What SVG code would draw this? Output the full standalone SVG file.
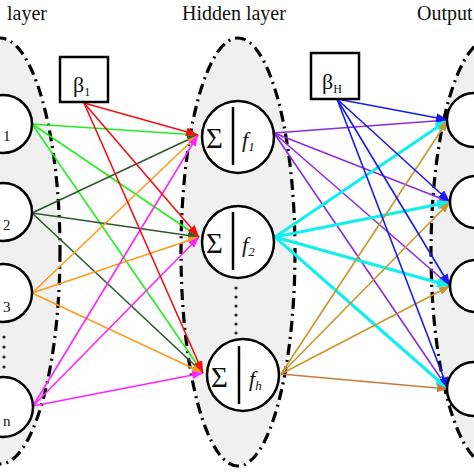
<svg xmlns="http://www.w3.org/2000/svg" width="474" height="474" viewBox="0 0 474 474">
<style>
.layer{fill:#f0f0f0;stroke:#000;stroke-width:3.2;stroke-dasharray:11 5 2 5}
.node{fill:#fff;stroke:#000;stroke-width:2.5}
.box{fill:#fff;stroke:#000;stroke-width:2.5}
.t{font-family:"Liberation Serif","Times New Roman",serif;fill:#111}
.title{font-size:20px}
.sub{font-size:15px}
.it{font-style:italic}
.dot{fill:#222}
.c{fill:none;stroke-width:1.6}
</style>
<defs>
<marker id="aG" markerUnits="userSpaceOnUse" markerWidth="11" markerHeight="8" refX="11" refY="4" orient="auto"><path d="M0,0L11,4L0,8z" fill="#22ee22"/></marker>
<marker id="aD" markerUnits="userSpaceOnUse" markerWidth="11" markerHeight="8" refX="11" refY="4" orient="auto"><path d="M0,0L11,4L0,8z" fill="#2e5a2e"/></marker>
<marker id="aO" markerUnits="userSpaceOnUse" markerWidth="11" markerHeight="8" refX="11" refY="4" orient="auto"><path d="M0,0L11,4L0,8z" fill="#ff9a1a"/></marker>
<marker id="aM" markerUnits="userSpaceOnUse" markerWidth="11" markerHeight="8" refX="11" refY="4" orient="auto"><path d="M0,0L11,4L0,8z" fill="#ff22ff"/></marker>
<marker id="aR" markerUnits="userSpaceOnUse" markerWidth="12" markerHeight="9" refX="12" refY="4.5" orient="auto"><path d="M0,0L12,4.5L0,9z" fill="#ee1111"/></marker>
<marker id="aP" markerUnits="userSpaceOnUse" markerWidth="11" markerHeight="8" refX="11" refY="4" orient="auto"><path d="M0,0L11,4L0,8z" fill="#8a2be2"/></marker>
<marker id="aC" markerUnits="userSpaceOnUse" markerWidth="13" markerHeight="10" refX="13" refY="5" orient="auto"><path d="M0,0L13,5L0,10z" fill="#11eeee"/></marker>
<marker id="aY" markerUnits="userSpaceOnUse" markerWidth="11" markerHeight="8" refX="11" refY="4" orient="auto"><path d="M0,0L11,4L0,8z" fill="#c8962a"/></marker>
<marker id="aW" markerUnits="userSpaceOnUse" markerWidth="11" markerHeight="8" refX="11" refY="4" orient="auto"><path d="M0,0L11,4L0,8z" fill="#c77a3a"/></marker>
<marker id="aB" markerUnits="userSpaceOnUse" markerWidth="12" markerHeight="9" refX="12" refY="4.5" orient="auto"><path d="M0,0L12,4.5L0,9z" fill="#1a1aee"/></marker>
</defs>

<g id="layers">
<ellipse class="layer" cx="0" cy="251" rx="60" ry="213"/>
<ellipse class="layer" cx="238" cy="252" rx="57" ry="214"/>
<ellipse class="layer" cx="491" cy="252" rx="60" ry="214"/>
</g>

<g id="titles">
<text class="t title" x="47" y="20" text-anchor="end">layer</text>
<text class="t title" x="234" y="20" text-anchor="middle">Hidden layer</text>
<text class="t title" x="417" y="20">Output</text>
</g>

<g id="connectors">
<g stroke="#22ee22" class="c" marker-end="url(#aG)">
<line x1="32" y1="124" x2="198" y2="135"/>
<line x1="32" y1="124" x2="199" y2="237"/>
<line x1="32" y1="124" x2="203" y2="373"/>
</g>
<g stroke="#2e5a2e" class="c" marker-end="url(#aD)">
<line x1="32" y1="213" x2="198" y2="135"/>
<line x1="32" y1="213" x2="199" y2="237"/>
<line x1="32" y1="213" x2="203" y2="373"/>
</g>
<g stroke="#ff9a1a" class="c" marker-end="url(#aO)">
<line x1="32" y1="293" x2="198" y2="135"/>
<line x1="32" y1="293" x2="199" y2="237"/>
<line x1="32" y1="293" x2="203" y2="373"/>
</g>
<g stroke="#ff22ff" class="c" marker-end="url(#aM)">
<line x1="33" y1="406" x2="198" y2="135"/>
<line x1="33" y1="406" x2="199" y2="237"/>
<line x1="33" y1="406" x2="203" y2="373"/>
</g>
<g stroke="#ee1111" class="c" marker-end="url(#aR)">
<line x1="84" y1="103" x2="198" y2="135"/>
<line x1="84" y1="103" x2="199" y2="237"/>
<line x1="84" y1="103" x2="203" y2="373"/>
</g>
<g stroke="#8a2be2" class="c" marker-end="url(#aP)">
<line x1="274" y1="133" x2="448" y2="120"/>
<line x1="274" y1="133" x2="450" y2="202"/>
<line x1="274" y1="133" x2="450" y2="286"/>
<line x1="274" y1="133" x2="448" y2="389"/>
</g>
<g stroke="#11eeee" class="c" marker-end="url(#aC)">
<line x1="275" y1="237" x2="448" y2="120" stroke-width="3"/>
<line x1="275" y1="237" x2="450" y2="202" stroke-width="3"/>
<line x1="275" y1="237" x2="450" y2="286" stroke-width="3"/>
<line x1="275" y1="237" x2="448" y2="389" stroke-width="3"/>
</g>
<g stroke="#c8962a" class="c" marker-end="url(#aY)">
<line x1="281" y1="374" x2="448" y2="120"/>
<line x1="281" y1="374" x2="450" y2="202"/>
<line x1="281" y1="374" x2="450" y2="286"/>
</g>
<line x1="281" y1="374" x2="448" y2="389" stroke="#c77a3a" class="c" marker-end="url(#aW)"/>
<g stroke="#1a1aee" class="c" marker-end="url(#aB)">
<line x1="337" y1="99" x2="448" y2="120"/>
<line x1="337" y1="99" x2="450" y2="202"/>
<line x1="337" y1="99" x2="450" y2="286"/>
<line x1="337" y1="99" x2="448" y2="389"/>
</g>
</g>

<g id="input-nodes">
<g id="x1"><circle class="node" cx="3" cy="124" r="29"/><text class="t sub" x="3" y="141">1</text></g>
<g id="x2"><circle class="node" cx="3" cy="212" r="29"/><text class="t sub" x="3" y="230">2</text></g>
<g id="x3"><circle class="node" cx="3" cy="293" r="29"/><text class="t sub" x="3" y="312">3</text></g>
<g id="xn"><circle class="node" cx="3" cy="407" r="30"/><text class="t sub" x="3" y="426">n</text></g>
<g id="input-dots" class="dot">
<circle cx="4" cy="337" r="1.6"/><circle cx="4" cy="347" r="1.6"/><circle cx="4" cy="357" r="1.6"/><circle cx="4" cy="367" r="1.6"/>
</g>
</g>

<g id="beta1">
<rect class="box" x="60" y="57" width="48" height="45"/>
<text class="t" x="73" y="92" font-size="22">β<tspan font-size="12" dy="4">1</tspan></text>
</g>
<g id="betaH">
<rect class="box" x="311" y="53" width="48" height="46"/>
<text class="t" x="322" y="89" font-size="22">β<tspan font-size="12" dy="4">H</tspan></text>
</g>

<g id="hidden-nodes">
<g id="h1">
<circle class="node" cx="238" cy="137" r="36"/>
<text class="t" x="206" y="148" font-size="29">Σ</text>
<line x1="233" y1="107" x2="233" y2="165" stroke="#000" stroke-width="2.5"/>
<text class="t it" x="242" y="147" font-size="22">f<tspan font-size="13" dy="4">1</tspan></text>
</g>
<g id="h2">
<circle class="node" cx="238" cy="242" r="36"/>
<text class="t" x="206" y="253" font-size="29">Σ</text>
<line x1="233" y1="212" x2="233" y2="270" stroke="#000" stroke-width="2.5"/>
<text class="t it" x="242" y="252" font-size="22">f<tspan font-size="13" dy="4">2</tspan></text>
</g>
<g id="hh">
<circle class="node" cx="243" cy="375" r="36"/>
<text class="t" x="211" y="387" font-size="29">Σ</text>
<line x1="239" y1="346" x2="239" y2="404" stroke="#000" stroke-width="2.5"/>
<text class="t it" x="249" y="386" font-size="22">f<tspan font-size="13" dy="4">h</tspan></text>
</g>
<g id="hidden-dots" class="dot">
<circle cx="236" cy="288" r="1.6"/><circle cx="236" cy="297" r="1.6"/><circle cx="236" cy="306" r="1.6"/><circle cx="236" cy="315" r="1.6"/><circle cx="236" cy="324" r="1.6"/><circle cx="236" cy="333" r="1.6"/>
</g>
</g>

<g id="output-nodes">
<g id="o1"><circle class="node" cx="474" cy="120" r="27"/></g>
<g id="o2"><circle class="node" cx="476" cy="202" r="26"/></g>
<g id="o3"><circle class="node" cx="476" cy="286" r="26"/></g>
<g id="o4"><circle class="node" cx="474" cy="389" r="27"/></g>
</g>
</svg>
